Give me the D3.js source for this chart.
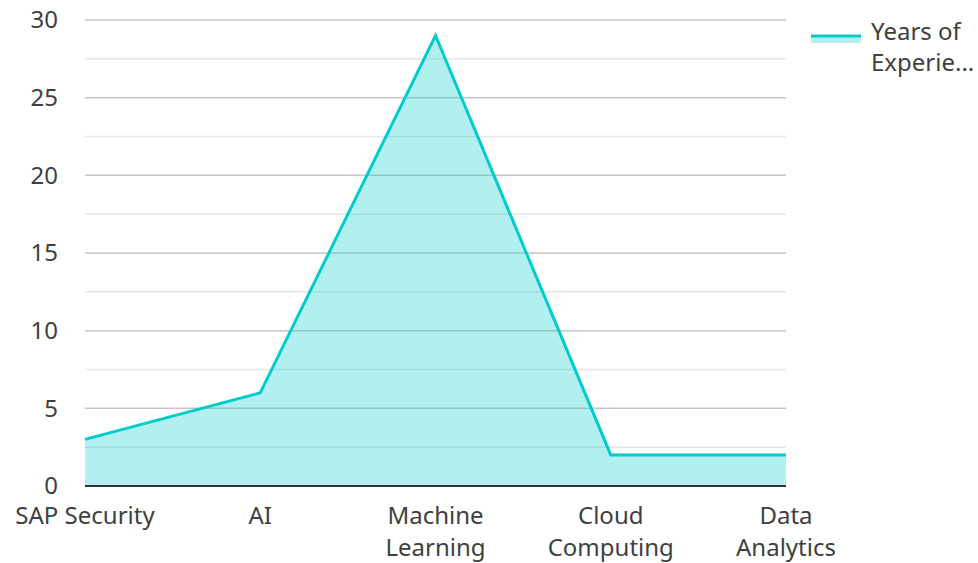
<!DOCTYPE html>
<html>
<head>
<meta charset="utf-8">
<script src="https://cdn.jsdelivr.net/npm/d3@7/dist/d3.min.js"></script>
<style>
  body { margin: 0; background: #fff; }
  svg text { font-family: "Noto Sans", sans-serif; fill: #404040; }
</style>
</head>
<body>
<div id="chart"></div>
<script>
var categories = ["SAP Security", "AI", "Machine Learning", "Cloud Computing", "Data Analytics"];
var labelLines = [["SAP Security"], ["AI"], ["Machine", "Learning"], ["Cloud", "Computing"], ["Data", "Analytics"]];
var values = [3, 6, 29, 2, 2];
var yTicks = [0, 5, 10, 15, 20, 25, 30];
var minorTicks = [2.5, 7.5, 12.5, 17.5, 22.5, 27.5];
var seriesName = ["Years of", "Experie..."];

var width = 978, height = 563;
var margin = {top: 20, right: 192, bottom: 77, left: 85};
var chartWidth = width - margin.left - margin.right,
    chartHeight = height - margin.top - margin.bottom;

var svg = d3.select("#chart").append("svg")
  .attr("width", width)
  .attr("height", height);

var chart = svg.append("g")
  .attr("transform", "translate(" + margin.left + "," + margin.top + ")");

var x = d3.scalePoint()
  .domain(categories)
  .range([0, chartWidth]);

var y = d3.scaleLinear()
  .domain([0, 30])
  .range([chartHeight, 0]);

// minor gridlines
chart.selectAll(".minor").data(minorTicks).enter().append("line")
  .attr("x1", 0).attr("x2", chartWidth)
  .attr("y1", function(d){ return y(d); })
  .attr("y2", function(d){ return y(d); })
  .attr("stroke", "#e6e6e6").attr("stroke-width", 1.5);

// major gridlines
chart.selectAll(".major").data(yTicks.slice(1)).enter().append("line")
  .attr("x1", 0).attr("x2", chartWidth)
  .attr("y1", function(d){ return y(d); })
  .attr("y2", function(d){ return y(d); })
  .attr("stroke", "#c6c6c6").attr("stroke-width", 1.5);

var area = d3.area()
  .x(function(d, i){ return x(categories[i]); })
  .y0(chartHeight)
  .y1(function(d){ return y(d); });

var line = d3.line()
  .x(function(d, i){ return x(categories[i]); })
  .y(function(d){ return y(d); });

chart.append("path")
  .datum(values)
  .attr("d", area)
  .attr("fill", "#00cccc")
  .attr("fill-opacity", 0.3);

chart.append("path")
  .datum(values)
  .attr("d", line)
  .attr("fill", "none")
  .attr("stroke", "#00cccc")
  .attr("stroke-width", 3);

// baseline
chart.append("line")
  .attr("x1", 0).attr("x2", chartWidth)
  .attr("y1", chartHeight).attr("y2", chartHeight)
  .attr("stroke", "#333").attr("stroke-width", 2);

// y labels
chart.selectAll(".ylab").data(yTicks).enter().append("text")
  .attr("x", -27)
  .attr("y", function(d){ return y(d); })
  .attr("dy", "0.35em")
  .attr("text-anchor", "end")
  .attr("font-size", 24)
  .text(function(d){ return d; });

// x labels
var xl = chart.selectAll(".xlab").data(categories).enter().append("text")
  .attr("x", function(d){ return x(d); })
  .attr("y", chartHeight + 38)
  .attr("text-anchor", "middle")
  .attr("font-size", 24);
xl.selectAll("tspan").data(function(d, i){ return labelLines[i]; }).enter().append("tspan")
  .attr("x", function(){ return x(d3.select(this.parentNode).datum()); })
  .attr("dy", function(d, i){ return i === 0 ? 0 : 32; })
  .text(function(d){ return d; });

// legend
var legend = svg.append("g").attr("transform", "translate(811,36)");
legend.append("rect")
  .attr("x", 0).attr("y", 0).attr("width", 50).attr("height", 7)
  .attr("fill", "#00cccc").attr("fill-opacity", 0.3);
legend.append("line")
  .attr("x1", 0).attr("x2", 50).attr("y1", 0).attr("y2", 0)
  .attr("stroke", "#00cccc").attr("stroke-width", 3);
legend.selectAll(".leg").data(seriesName).enter().append("text")
  .attr("x", 60)
  .attr("y", function(d, i){ return 4 + i * 31; })
  .attr("font-size", 24)
  .text(function(d){ return d; });
</script>
</body>
</html>
